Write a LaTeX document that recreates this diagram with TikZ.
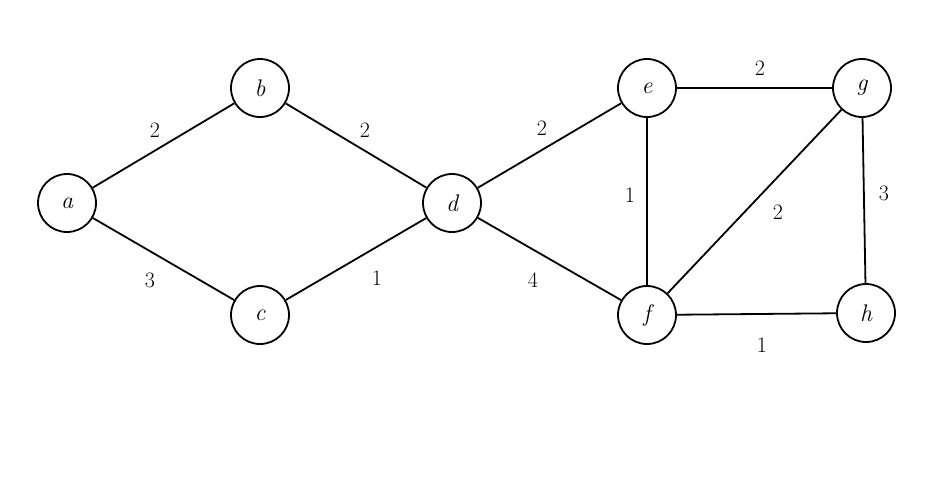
\documentclass[tikz,border=0pt]{standalone}
\begin{document}
\begin{tikzpicture}[x=1pt,y=-1pt,
  vtx/.style={circle,draw,line width=1.8pt,minimum size=58pt,inner sep=0pt,font=\fontsize{24}{24}\selectfont\itshape},
  edge/.style={line width=1.8pt},
  wt/.style={font=\fontsize{22}{22}\selectfont}]
\useasboundingbox (0,0) rectangle (946,496);
\node[vtx] (a) at (67,203) {a};
\node[vtx] (b) at (260,88) {b};
\node[vtx] (c) at (260,315) {c};
\node[vtx] (d) at (452,203) {d};
\node[vtx] (e) at (647,88) {e};
\node[vtx] (f) at (647,315) {f};
\node[vtx] (g) at (862,88) {g};
\node[vtx] (h) at (866,313) {h};
\draw[edge] (a) -- (b); \draw[edge] (a) -- (c);
\draw[edge] (b) -- (d); \draw[edge] (c) -- (d);
\draw[edge] (d) -- (e); \draw[edge] (d) -- (f);
\draw[edge] (e) -- (g); \draw[edge] (e) -- (f);
\draw[edge] (f) -- (g); \draw[edge] (g) -- (h);
\draw[edge] (f) -- (h);
\node[wt] (w1) at (155,130) {2};
\node[wt] (w2) at (365,130) {2};
\node[wt] (w3) at (150,280) {3};
\node[wt] (w4) at (377,278) {1};
\node[wt] (w5) at (542,128) {2};
\node[wt] (w6) at (533,280) {4};
\node[wt] (w7) at (760,68) {2};
\node[wt] (w8) at (630,195) {1};
\node[wt] (w9) at (778,212) {2};
\node[wt] (w10) at (884,193) {3};
\node[wt] (w11) at (762,345) {1};
\end{tikzpicture}
\end{document}
